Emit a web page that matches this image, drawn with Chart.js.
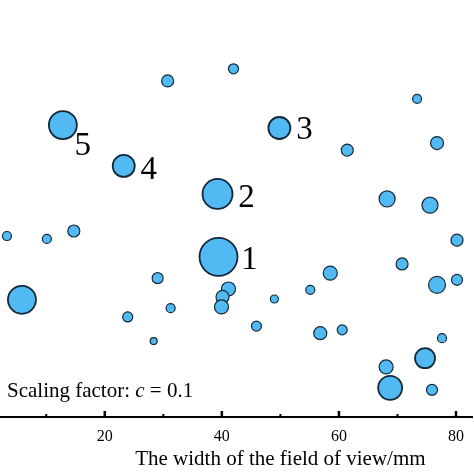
<!DOCTYPE html>
<html><head><meta charset="utf-8">
<script src="https://cdn.jsdelivr.net/npm/chart.js@4/dist/chart.umd.min.js"></script>
<style>html,body{margin:0;padding:0;background:#fff}#wrap{width:474px;height:474px}</style>
</head><body><div id="wrap"><canvas id="c" width="474" height="474"></canvas></div>
<script>
// ---- data ----
const xValues = [39.43, 39.26, 49.83, 23.24, 12.84,
  30.74, 41.99, 73.35, 61.42, 76.76, 68.23, 75.56, 3.29, 10.11, 14.71, 80.17,
  5.85, 29.03, 23.92, 70.79, 58.52, 41.13, 40.11, 39.94, 31.25, 55.11, 48.97,
  76.76, 80.17, 45.91, 56.81, 60.56, 77.61, 28.35, 74.71, 68.06, 68.75, 75.90];
const yValues = [38.4, 53.5, 69.3, 60.2, 70.0,
  80.6, 83.5, 76.3, 64.0, 65.7, 52.3, 50.8, 43.4, 42.7, 44.6, 42.4,
  28.1, 33.3, 24.0, 36.7, 34.5, 30.7, 28.8, 26.4, 26.1, 30.5, 28.3,
  31.7, 32.9, 21.8, 20.1, 20.9, 18.9, 18.2, 14.1, 12.0, 7.0, 6.5];
const sizes = [19, 15, 11, 11, 14,
  6, 5, 4.5, 6, 6.5, 8, 8, 4.5, 4.5, 6, 6,
  14, 5.5, 5, 6, 7, 7, 6.5, 7, 4.5, 4.5, 4,
  8.5, 5.5, 5, 6.5, 5, 4.5, 3.5, 10, 7, 12, 5.5];
const pointLabels = ['1', '2', '3', '4', '5'];
const xTicks = [20, 40, 60, 80];
const xMinorTicks = [10, 30, 50, 70];
const xAxisTitle = 'The width of the field of view/mm';
const noteParts = ['Scaling factor: ', 'c', ' = 0.1'];

// ---- styles ----
const SERIF = '"Liberation Serif", "Times New Roman", serif';
const labelOffsets = {'1': [31, 1], '2': [29, 2], '3': [25, 0], '4': [25, 2], '5': [20, 19]};

const points = xValues.map((x, i) => ({x: x, y: yValues[i], r: sizes[i]}));

const decor = {
  id: 'decor',
  afterDraw(chart) {
    const c = chart.ctx, xs = chart.scales.x, area = chart.chartArea;
    const base = area.bottom;
    c.save();
    c.strokeStyle = '#000';
    c.lineCap = 'butt';
    c.lineWidth = 2.5;
    xTicks.forEach(v => {
      const px = xs.getPixelForValue(v);
      c.beginPath(); c.moveTo(px, base); c.lineTo(px, base - 6); c.stroke();
    });
    c.lineWidth = 2;
    xMinorTicks.forEach(v => {
      const px = xs.getPixelForValue(v);
      c.beginPath(); c.moveTo(px, base); c.lineTo(px, base - 3); c.stroke();
    });
    // point labels
    const meta = chart.getDatasetMeta(0);
    c.fillStyle = '#000';
    c.font = '33px ' + SERIF;
    c.textAlign = 'center';
    c.textBaseline = 'middle';
    pointLabels.forEach((t, i) => {
      const el = meta.data[i];
      const off = labelOffsets[t] || [0, 0];
      c.fillText(t, el.x + off[0], el.y + off[1] + 2);
    });
    // note
    c.textAlign = 'left';
    c.textBaseline = 'alphabetic';
    let nx = area.left + 7;
    const ny = base - 20;
    noteParts.forEach((t, i) => {
      c.font = (i === 1 ? 'italic ' : '') + '21px ' + SERIF;
      c.fillText(t, nx, ny);
      nx += c.measureText(t).width;
    });
    // axis title
    c.font = '21px ' + SERIF;
    c.textAlign = 'center';
    c.fillText(xAxisTitle, xs.getPixelForValue(50), base + 48);
    c.restore();
  }
};

new Chart(document.getElementById('c'), {
  type: 'bubble',
  data: {
    datasets: [{
      data: points,
      backgroundColor: '#52BAF3',
      borderColor: '#14283a',
      borderWidth: ctx => (ctx.raw && ctx.raw.r >= 10 ? 1.8 : 1.2),
      clip: false
    }]
  },
  options: {
    responsive: false,
    animation: false,
    events: [],
    layout: {padding: 0, autoPadding: false},
    plugins: {legend: {display: false}, tooltip: {enabled: false}},
    scales: {
      x: {
        type: 'linear', min: 2.1, max: 82.9,
        afterBuildTicks: s => { s.ticks = xTicks.map(v => ({value: v})); },
        afterFit: s => { s.height = 57; },
        grid: {display: false, drawTicks: false},
        border: {display: true, color: '#000', width: 2},
        ticks: {color: '#000', padding: 10, font: {family: SERIF, size: 16}, maxRotation: 0}
      },
      y: {display: false, min: 0, max: 100}
    }
  },
  plugins: [decor]
});
</script>
</body></html>
